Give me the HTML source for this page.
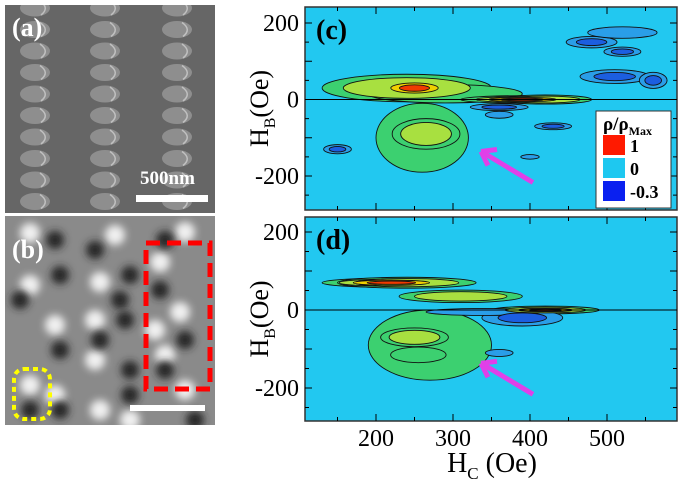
<!DOCTYPE html>
<html><head><meta charset="utf-8"><style>
body{margin:0;background:#fff;width:685px;height:487px;overflow:hidden;font-family:"Liberation Serif",serif}
svg{position:absolute;left:0;top:0}
</style></head><body>
<svg id="s" width="685" height="487">
<defs>
<filter id="bl2" x="-50%" y="-50%" width="200%" height="200%"><feGaussianBlur stdDeviation="4"/></filter>
<clipPath id="ca"><rect x="5" y="5" width="210" height="208"/></clipPath>
<clipPath id="cb"><rect x="5" y="216" width="210" height="209"/></clipPath>
<clipPath id="cc"><rect x="305" y="7" width="372" height="203"/></clipPath>
<clipPath id="cd"><rect x="305" y="217" width="372" height="204"/></clipPath>
</defs>
<g id="pa">
<rect x="5" y="5" width="210" height="208" fill="#666"/>
<g id="dotsA" clip-path="url(#ca)"></g>
<text x="12" y="36" font-size="26" font-weight="bold" fill="#fff">(a)</text>
<text x="140" y="184" font-size="19" font-weight="bold" fill="#fff">500nm</text>
<rect x="136" y="195" width="72" height="7" fill="#fff"/>
</g>
<g id="pb">
<rect x="5" y="216" width="210" height="209" fill="#8a8a8a"/>
<g id="dotsB" clip-path="url(#cb)"></g>
<text x="12" y="258" font-size="26" font-weight="bold" fill="#fff">(b)</text>
<rect x="146" y="243" width="64" height="146" fill="none" stroke="#f00" stroke-width="5" stroke-dasharray="14 7"/>
<rect x="14" y="369" width="36" height="50" rx="10" fill="none" stroke="#ff0" stroke-width="4" stroke-dasharray="5 4"/>
<rect x="130" y="405" width="75" height="6" fill="#fff"/>
</g>
<g id="pc"></g>
<g id="pd"></g>
</svg>
<script>
var NS='http://www.w3.org/2000/svg';
function mk(p,t,a){var e=document.createElementNS(NS,t);for(var k in a)e.setAttribute(k,a[k]);p.appendChild(e);return e;}
var dA=document.getElementById('dotsA');
[35,105,177].forEach(function(cx){for(var r=0;r<10;r++){var cy=8+r*21.5;
var e=mk(dA,'ellipse',{cx:cx,cy:cy,rx:15,ry:8.5,fill:'#8e8e8e'});
var h=mk(dA,'path',{d:'M'+(cx+5)+' '+(cy-7)+' Q'+(cx+15)+' '+cy+' '+(cx+6)+' '+(cy+7),stroke:'#c0c0c0','stroke-width':1.5,fill:'none'});}});
var dB=document.getElementById('dotsB');
var bw=[[30,233],[115,235],[185,232],[30,285],[100,282],[160,262],[180,312],[155,330],[55,325],[95,320],[165,355],[30,385],[55,395],[95,360],[185,390],[100,410],[130,420]];
var bk=[[55,240],[95,250],[165,240],[60,275],[130,275],[120,300],[160,290],[20,300],[60,350],[100,340],[125,320],[185,340],[130,370],[165,370],[30,410],[60,410],[130,395],[195,420]];
bw.forEach(function(p){var e=mk(dB,'circle',{cx:p[0],cy:p[1],r:10,fill:'#f0f0f0',filter:'url(#bl2)'});});
bk.forEach(function(p){var e=mk(dB,'circle',{cx:p[0],cy:p[1],r:9,fill:'#252525',filter:'url(#bl2)'});});

// FORC blobs [Hc, Hb, sigmaHc, sigmaHb, amplitude]
var blobsC_hc=[250,240,290,390,420,360,260,265,360,480,520,510,430,560,150,520,400];
var blobsC_hb=[30,30,15,0,0,-20,-100,-90,-40,150,125,60,-70,50,-130,175,-150];
var blobsC_sx=[28,55,50,40,30,25,30,22,12,22,16,30,16,12,12,30,8];
var blobsC_sy=[12,18,12,5,6,6,45,20,6,10,8,12,6,14,8,10,4];
var blobsC_a=[1,0.55,0.35,0.85,0.6,-0.3,0.35,0.5,-0.25,-0.3,-0.3,-0.3,-0.3,-0.3,-0.3,-0.25,-0.2];
var blobsD_hc=[220,240,310,420,420,390,270,250,255,340,360];
var blobsD_hb=[70,70,35,0,0,-20,-90,-70,-115,-5,-110];
var blobsD_sx=[45,45,40,32,35,35,40,22,18,50,12];
var blobsD_sy=[6,7,8,4,5,14,45,12,10,6,6];
var blobsD_a=[1,0.6,0.5,1,0.6,-0.35,0.35,0.5,0.45,-0.2,-0.2];
var xTicks=[200,300,400,500];
var yTicks=[200,0,-200];
var posLevels=[[0,2.0,'#3cd070'],[0.45,1.5,'#a8e040'],[0.6,1.1,'#f0d000'],[0.8,0.7,'#f03a00']];
var negLevels=[[0,1.5,'#2a9ee8'],[0.28,0.9,'#1c5ee0']];
function panel(gid,top,bot,y0,y200,hc,hb,sx,sy,am,label,clip,showX){
 var g=document.getElementById(gid);
 function X(v){return 376+(v-200)*0.77;} function Y(v){return y0+(y200-y0)*v/200;}
 var ky=(y0-y200)/200;
 mk(g,'rect',{x:305,y:top,width:372,height:bot-top,fill:'#22c8f0'});
 var cg=mk(g,'g',{'clip-path':'url(#'+clip+')'});
 [0,1,2,3].forEach(function(li){
 for(var i=0;i<hc.length;i++){
  var rx=sx[i]*0.77,ry=sy[i]*ky,a=am[i],lv=a>0?posLevels:negLevels,aa=Math.abs(a),L=lv[li];
  if(L&&aa>L[0]){
   var e=mk(cg,'ellipse',{cx:X(hc[i]),cy:Y(hb[i]),rx:rx*L[1],ry:ry*L[1],fill:L[2],stroke:'#111','stroke-width':0.9});
   
   }
 }});
 var z=mk(g,'line',{x1:305,x2:677,y1:Y(0),y2:Y(0),stroke:'#000','stroke-width':1});
 
 
 var f=mk(g,'rect',{x:305,y:top,width:372,height:bot-top,fill:'none',stroke:'#333','stroke-width':1.5});
 
 
 [-250,-150,-50,50,150,200,-200,0,100,-100].forEach(function(v){var yy=Y(v);if(yy>top&&yy<bot){mk(g,'line',{x1:305,x2:v%100?309:312,y1:yy,y2:yy,stroke:'#000'});mk(g,'line',{x1:677,x2:v%100?673:670,y1:yy,y2:yy,stroke:'#000'});}});
 yTicks.forEach(function(v){var t=mk(g,'text',{x:299,y:Y(v)+8,'font-size':24,'text-anchor':'end'});t.textContent=v;});
 [150,200,250,300,350,400,450,500,550].forEach(function(v){mk(g,'line',{x1:X(v),x2:X(v),y1:bot,y2:bot-(v%100?4:7),stroke:'#000'});mk(g,'line',{x1:X(v),x2:X(v),y1:top,y2:top+(v%100?4:7),stroke:'#000'});});
 if(showX)xTicks.forEach(function(v){var t=mk(g,'text',{x:X(v),y:bot+25,'font-size':24,'text-anchor':'middle'});t.textContent=v;});
 var l=mk(g,'text',{x:316,y:top+32,'font-size':28,'font-weight':'bold'});l.textContent=label;
 var yl=mk(g,'text',{transform:'translate(268,'+((top+bot)/2)+') rotate(-90)','font-size':26,'text-anchor':'middle'});
 yl.innerHTML='H<tspan font-size="16" dy="7">B</tspan><tspan dy="-7">(Oe)</tspan>';
 
 var ax=X(400)-5,ay=Y(-170);
 var ar=mk(g,'path',{d:'M'+(ax+8)+' '+(ay+18)+' L'+(ax-42)+' '+(ay-12)+' M'+(ax-44)+' '+(ay-13)+' L'+(ax-28)+' '+(ay-15)+' M'+(ax-44)+' '+(ay-13)+' L'+(ax-37)+' '+(ay+1),stroke:'#e040e8','stroke-width':5,fill:'none'});
 
}
panel('pc',7,210,99.5,23,blobsC_hc,blobsC_hb,blobsC_sx,blobsC_sy,blobsC_a,'(c)','cc',false);
panel('pd',217,421,310,232,blobsD_hc,blobsD_hb,blobsD_sx,blobsD_sy,blobsD_a,'(d)','cd',true);
var s=document.getElementById('s');
var xt=mk(s,'text',{x:492,y:472,'font-size':28,'text-anchor':'middle'});
xt.innerHTML='H<tspan font-size="17" dy="7">C</tspan><tspan dy="-7"> (Oe)</tspan>';

var lg=mk(s,'g',{});
mk(lg,'rect',{x:596,y:111,width:75,height:97,fill:'#fff',stroke:'#333'});
var lt=mk(lg,'text',{x:603,y:130,'font-size':19,'font-weight':'bold'});lt.innerHTML='ρ/ρ<tspan font-size="12" dy="5">Max</tspan>';
var legC=['#ff1a00','#1ec8f0','#0a20f0'],legL=['1','0','-0.3'];
for(var i=0;i<3;i++){mk(lg,'rect',{x:603,y:135+i*23,width:22,height:20,fill:legC[i]});var t=mk(lg,'text',{x:630,y:152+i*23,'font-size':18,'font-weight':'bold'});t.textContent=legL[i];}
</script>
</body></html>
